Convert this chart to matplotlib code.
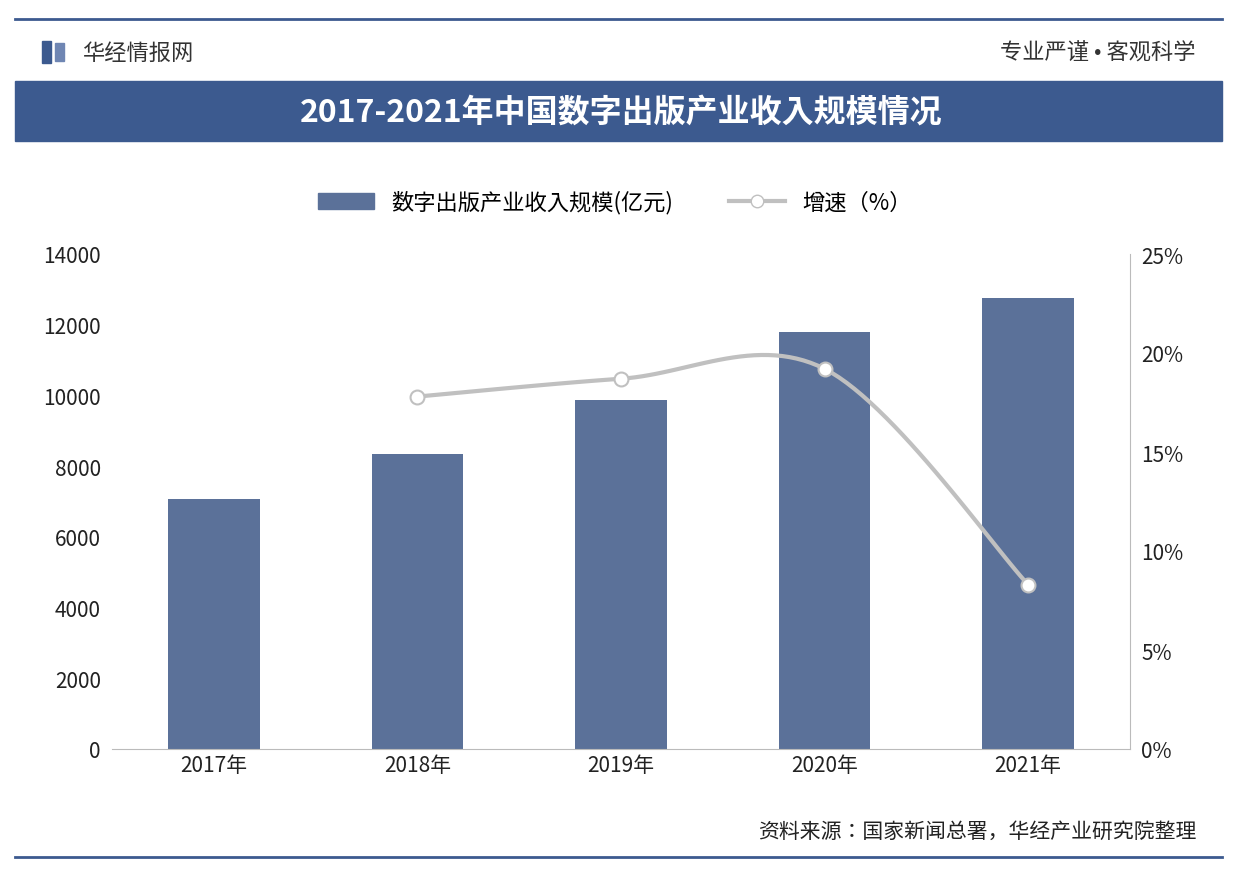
import numpy as np
import matplotlib.pyplot as plt
from matplotlib.patches import Rectangle
from matplotlib.lines import Line2D

plt.rcParams["font.family"] = "sans-serif"
plt.rcParams["font.sans-serif"] = ["Noto Sans CJK SC", "Noto Sans CJK JP", "Noto Sans CJK TC",
                                   "Noto Sans CJK KR", "DejaVu Sans"]

years = ["2017年", "2018年", "2019年", "2020年", "2021年"]
revenue = [7071.93, 8330.78, 9881.43, 11781.67, 12762.64]
growth_years = [1, 2, 3, 4]
growth = [17.8, 18.7, 19.2, 8.3]

bar_color = "#5b7199"
dark_blue = "#3c5a8f"


def smooth(xs, ys, n=30):
    # Catmull-Rom style curve through the points (drawing only)
    xs, ys = np.asarray(xs, float), np.asarray(ys, float)
    px, py = [], []
    for i in range(len(xs) - 1):
        p0 = (xs[max(i - 1, 0)], ys[max(i - 1, 0)])
        p1 = (xs[i], ys[i])
        p2 = (xs[i + 1], ys[i + 1])
        p3 = (xs[min(i + 2, len(xs) - 1)], ys[min(i + 2, len(xs) - 1)])
        t = np.linspace(0, 1, n)
        for k, (a, b, c, d) in enumerate([(p0[0], p1[0], p2[0], p3[0]), (p0[1], p1[1], p2[1], p3[1])]):
            v = 0.5 * (2 * b + (-a + c) * t + (2 * a - 5 * b + 4 * c - d) * t ** 2 + (-a + 3 * b - 3 * c + d) * t ** 3)
            (px if k == 0 else py).extend(v)
    return px, py


fig = plt.figure(figsize=(12.42, 8.78), dpi=100)
W, H = 1242, 878

def fx(x): return x / W
def fy(y): return 1 - y / H

# header
fig.patches.append(Rectangle((fx(42), fy(64)), 9 / W, 22 / H, transform=fig.transFigure, color=dark_blue))
fig.patches.append(Rectangle((fx(55), fy(62)), 9 / W, 18 / H, transform=fig.transFigure, color="#6f86b3"))
fig.text(fx(82), fy(53), "华经情报网", color="#333333", fontsize=16, va="center")
fig.text(fx(1196), fy(53), "专业严谨 • 客观科学", color="#333333", fontsize=16, va="center", ha="right")
fig.patches.append(Rectangle((fx(15), fy(142)), fx(1207), 60 / H, transform=fig.transFigure, color=dark_blue))
fig.text(0.5, fy(113), "2017-2021年中国数字出版产业收入规模情况", color="white", fontsize=23,
         fontweight="bold", ha="center", va="center")
fig.lines.append(Line2D([fx(15), fx(1222)], [fy(20), fy(20)], transform=fig.transFigure, color=dark_blue, lw=2))
fig.lines.append(Line2D([fx(15), fx(1222)], [fy(858), fy(858)], transform=fig.transFigure, color=dark_blue, lw=2))
fig.text(fx(1196), fy(832), "资料来源：国家新闻总署，华经产业研究院整理", color="#222222", fontsize=15, ha="right", va="center")

ax = fig.add_axes([fx(112), fy(750), fx(1130 - 112), (750 - 255) / H])
x = np.arange(len(years))
ax.bar(x, revenue, width=0.45, color=bar_color, label="数字出版产业收入规模(亿元)")
ax.set_ylim(0, 14000)
ax.set_yticks(range(0, 14001, 2000))
ax.set_xlim(-0.5, 4.5)
ax.set_xticks(x)
ax.set_xticklabels(years)
ax.tick_params(labelsize=15, length=0, colors="#222222")
ax.tick_params(axis="y", pad=8)
for s in ["top", "right", "left"]:
    ax.spines[s].set_visible(False)
ax.spines["bottom"].set_color("#bbbbbb")

ax2 = ax.twinx()
sx, sy = smooth(growth_years, growth)
ax2.plot(sx, sy, color="#c0c0c0", lw=3)
ax2.plot(growth_years, growth, "o", color="#c0c0c0", mfc="white", ms=10, mew=1.5)
ax2.set_ylim(0, 25)
ax2.set_yticks(range(0, 26, 5))
ax2.set_yticklabels([f"{v}%" for v in range(0, 26, 5)])
ax2.tick_params(labelsize=15, length=0, colors="#222222", pad=8)
for s in ["top", "left", "bottom"]:
    ax2.spines[s].set_visible(False)
ax2.spines["right"].set_color("#bbbbbb")

handles = [Rectangle((0, 0), 1, 1, color=bar_color),
           Line2D([], [], color="#c0c0c0", lw=3, marker="o", mfc="white", ms=9)]
fig.legend(handles, ["数字出版产业收入规模(亿元)", "增速（%）"], loc="center", bbox_to_anchor=(fx(615), fy(203)),
           ncol=2, frameon=False, fontsize=16, handlelength=2.5, columnspacing=2.5)

fig.savefig("out.png", dpi=100, facecolor="white")
